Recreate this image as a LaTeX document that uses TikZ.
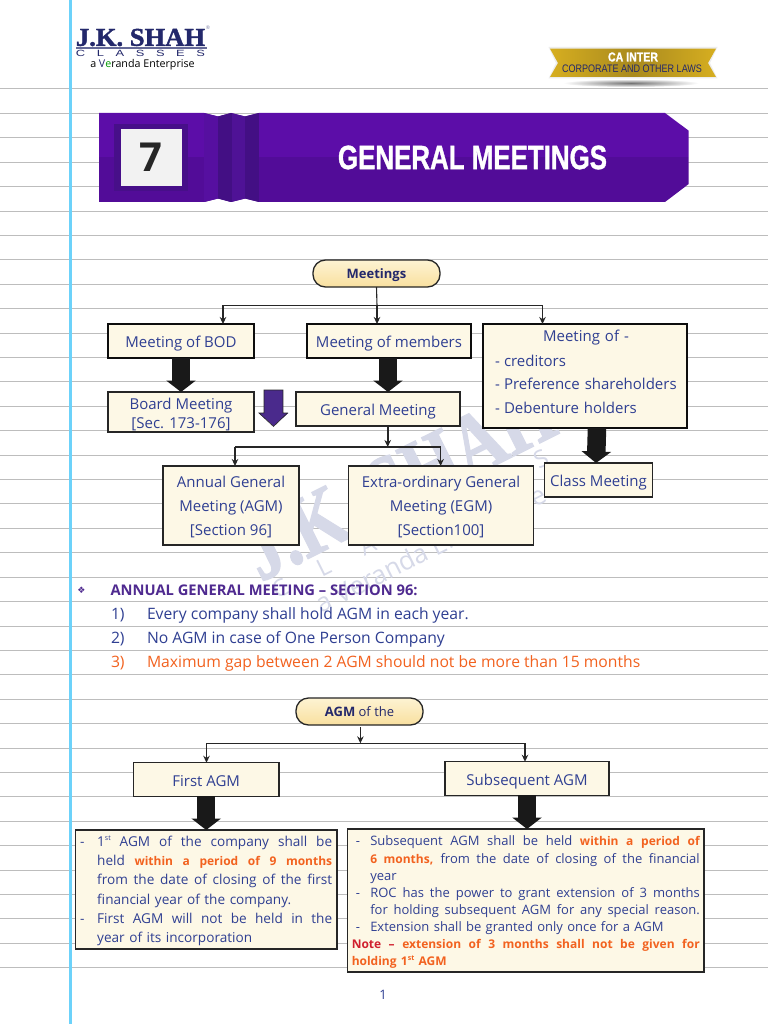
\documentclass[tikz,border=0pt]{standalone}
\usepackage{fontspec}
\usepackage{graphicx}
\setmainfont{Open Sans}
\newfontfamily\logoserif[BoldFeatures={FakeBold=1.6}]{Liberation Serif}
\newfontfamily\headsans[BoldFeatures={FakeBold=1.2}]{Liberation Sans}
\newfontfamily\symfont{DejaVu Sans}
\usetikzlibrary{arrows.meta,calc}
\definecolor{rulegray}{HTML}{BDBDBD}
\definecolor{margincyan}{HTML}{6CD2FA}
\definecolor{wmark}{HTML}{D6D9E8}
\definecolor{boxfill}{HTML}{FDF8E6}
\definecolor{boxtext}{HTML}{2F3F92}
\definecolor{orangetext}{HTML}{F2621F}
\definecolor{redtext}{HTML}{D0202F}
\definecolor{headpurple}{HTML}{4F2A90}
\definecolor{navy}{HTML}{23286B}
\definecolor{bannertop}{HTML}{5C0DA8}
\definecolor{bannerlow}{HTML}{520C98}
\definecolor{fold}{HTML}{430F84}
\definecolor{foldmid}{HTML}{4F1296}
\definecolor{foldsoft}{HTML}{560FA0}
\definecolor{arrowpurple}{HTML}{4A2A8C}
\definecolor{gold}{HTML}{D6AE20}
\definecolor{golddark}{HTML}{A98A1E}
\definecolor{pilltop}{HTML}{FDF3D3}
\definecolor{pilllow}{HTML}{F9E09F}
\newcommand\jla[1]{\makebox[235pt][s]{\spaceskip=.27em plus 3em\relax #1}}
\newcommand\jlb[1]{\makebox[329.5pt][s]{\spaceskip=.27em plus 3em\relax #1}}
\newcommand\dsh[1]{\leavevmode\hbox to #1{-\hfil}}
\newcommand\ord[1]{#1\raisebox{.42em}{\fontsize{7}{7}\selectfont st}}
\newcommand\topstrut[1]{\rule{0pt}{#1}}
\newcommand\orb[1]{\textcolor{orangetext}{\bfseries\fontsize{12}{17}\selectfont #1}}
\tikzset{
  x=1pt,y=-1pt,
  every node/.style={inner sep=0pt,outer sep=0pt},
  ruled/.style={rulegray,line width=1pt},
  plainbox/.style={rectangle,draw=black!85,line width=1.1pt,fill=boxfill,text=boxtext,align=center,
    font=\fontsize{15}{24.4}\selectfont},
  oneline/.style={text height=15pt,text depth=2pt},
  heavybox/.style={plainbox,line width=1.9pt,draw=black!95},
  pill/.style={rectangle,rounded corners=12.5pt,draw=black!85,line width=1.3pt,top color=pilltop,bottom color=pilllow,
    text=navy,align=center,text height=11.5pt,text depth=2pt,font=\fontsize{13}{16}\selectfont},
  conn/.style={draw=black!85,line width=1.1pt,-{Stealth[length=7pt,width=6.5pt]}},
  hconn/.style={draw=black!85,line width=1.1pt},
  blockarrow/.style={draw=black!90,line width=18.5pt,-{Triangle[length=11.5pt,width=29pt]}},
  listline/.style={anchor=west,text=boxtext,text height=13pt,text depth=2pt,font=\fontsize{15.7}{18}\selectfont},
  wm/.style={text=wmark,rotate=26.5},
}
\begin{document}
\begin{tikzpicture}
\useasboundingbox (0,0) rectangle (768,1024);
\fill[white] (0,0) rectangle (768,1024);
% ruled paper
\foreach \k in {0,...,36}{\draw[ruled] (0,{89+24.41*\k}) -- (768,{89+24.41*\k});}
\fill[margincyan] (68.6,0) rectangle (72,1024);
% watermark
\node[wm] (wmlogo) at (398,482) {\resizebox{335pt}{58pt}{\logoserif\bfseries J.K. SHAH}};
\node[wm] (wmclasses) at (410,524) {\fontsize{24}{24}\selectfont C\hspace{35pt}L\hspace{35pt}A\hspace{35pt}S\hspace{35pt}S\hspace{35pt}E\hspace{35pt}S};
\node[wm] (wmveranda) at (432,551) {\fontsize{26}{26}\selectfont a Veranda Enterprise};
% logo
\node (logotext) at (140.5,37.5) {\textcolor{navy}{\resizebox{129pt}{17pt}{\logoserif\bfseries J.K. SHAH}}};
\node (logoreg) at (208,28) {\textcolor{navy!60}{\fontsize{5}{5}\selectfont ®}};
\fill[navy!70!white] (76,47.2) rectangle (207,48.6);
\node (logoclasses) at (140.5,53.6) {\textcolor{navy}{\resizebox{129pt}{6.3pt}{\headsans C\hspace{9pt}L\hspace{9pt}A\hspace{9pt}S\hspace{9pt}S\hspace{9pt}E\hspace{9pt}S}}};
\node (logoveranda) at (142.5,65) {\fontsize{10.7}{11}\selectfont a \textcolor{navy}{V}\textcolor{green!60!black}{e}randa Enterprise};
% badge
\shade[inner color=black!55,outer color=white] (631,83) ellipse (68 and 4);
\fill[white!93!black] (548.5,47) -- (717.5,47) -- (710,63) -- (717.5,78.5) -- (548.5,78.5) -- (556,63) -- cycle;
\shade[left color=gold,right color=gold,middle color=golddark] (550,48.7) -- (716,48.7) -- (708,63) -- (716,77) -- (550,77) -- (558,63) -- cycle;
\node (badgetop) at (633,57) {\textcolor{white}{\resizebox{50pt}{9pt}{\headsans\bfseries CA INTER}}};
\node (badgelow) at (632,69.2) {\textcolor{navy}{\resizebox{140pt}{7.6pt}{\headsans CORPORATE AND OTHER LAWS}}};
% banner
\begin{scope}
\clip (99,113) -- (204,113) -- (218,116.5) -- (231,113) -- (245,116.5) -- (259,113) -- (665,113) -- (688.7,130.7) -- (688.7,184) -- (665,202) -- (259,202) -- (245,198.5) -- (231,202) -- (218,198.5) -- (204,202) -- (99,202) -- cycle;
\fill[bannertop] (90,110) rectangle (695,157);
\fill[bannerlow] (90,157) rectangle (695,205);
\fill[foldsoft] (204,110) rectangle (218,205);
\fill[fold] (218,110) rectangle (232,205);
\fill[foldmid] (232,110) rectangle (245,205);
\fill[fold] (245,110) rectangle (259,205);
\end{scope}
\fill[fold!85!bannertop] (114,124) rectangle (188,191);
\node[fill=white!95!black,minimum width=61.5pt,minimum height=57pt,text=black!85] (chapter) at (151.3,157.5) {\bfseries\fontsize{40}{40}\selectfont 7};
\node (title) at (472.5,157.5) {\textcolor{white}{\resizebox{269pt}{23.5pt}{\headsans\bfseries GENERAL MEETINGS}}};
% first chart
\node[pill,minimum width=127pt,minimum height=27pt] (meetings) at (376.5,273.5) {\bfseries Meetings};
\node[heavybox,oneline,minimum width=146pt,minimum height=34pt] (bod) at (181,341) {Meeting of BOD};
\node[heavybox,oneline,minimum width=164pt,minimum height=34pt,line width=1.5pt] (members) at (389,341) {Meeting of members};
\node[heavybox,minimum width=204pt,minimum height=104pt,align=left,text width=180pt,inner xsep=12pt] (meetof) at (585,376) {\makebox[180pt][c]{\hspace{2pt}Meeting of -}\\[.5pt]\dsh{9pt}\mbox{creditors}\\[-1pt]\dsh{9pt}\mbox{Preference shareholders}\\\dsh{9pt}\mbox{Debenture holders}\rule[-8.5pt]{0pt}{8.5pt}};
\node[plainbox,minimum width=146pt,minimum height=40pt,font=\fontsize{15}{18.5}\selectfont] (board) at (181,412) {\topstrut{16pt}Board Meeting\\{}[Sec. 173-176]};
\node[plainbox,oneline,minimum width=164pt,minimum height=34pt] (general) at (378,409) {General Meeting};
\node[plainbox,minimum width=136pt,minimum height=79pt] (agm) at (231,505.5) {\topstrut{14.5pt}Annual General\\Meeting (AGM)\\{}[Section 96]};
\node[plainbox,minimum width=185.5pt,minimum height=79pt] (egm) at (441,505.5) {\topstrut{14.5pt}Extra-ordinary General\\Meeting (EGM)\\{}[Section100]};
\node[plainbox,oneline,minimum width=108pt,minimum height=34pt] (classm) at (598.5,480) {Class Meeting};
\coordinate (hub) at (377,305.7);
\draw[hconn] (meetings.south) -- (hub);
\draw[conn] (hub) -- (hub |- members.north);
\draw[conn] (hub) -| ($(bod.north)+(42,0)$);
\draw[conn] (hub) -| ($(meetof.north)+(-42.5,0)$);
\draw[blockarrow] (bod.south) -- (board.north);
\draw[blockarrow] ($(members.south)+(-1,0)$) -- ($(general.north)+(10,0)$ );
\draw[blockarrow] ($(meetof.south)+(12,0)$) -- ($(classm.north)+(-2.5,0)$);
\coordinate (purpletop) at (273.5,390);
\coordinate (purpletip) at (273.5,426);
\draw[draw=arrowpurple,line width=19pt,-{Triangle[length=13pt,width=29pt]}] (purpletop) -- (purpletip);
\draw[black!85,line width=.6pt] (264,390) -- (283,390) -- (283,413) -- (287.5,413) -- (273.5,426.5) -- (259,413) -- (264,413) -- cycle;
\coordinate (hubb) at (387.7,447);
\draw[conn,line width=1.7pt] ($(general.south)+(9.7,0)$) -- (hubb);
\draw[hconn,line width=1.8pt] (235,447) -- (440.6,447);
\draw[conn] (235,447) -- ($(agm.north)+(4,0)$);
\draw[conn] (440.6,447) -- ($(egm.north)+(-.4,0)$);
% list
\node[text=headpurple,font=\symfont\fontsize{9}{9}\selectfont] (bull) at (81.5,590) {❖};
\node[anchor=west,text=headpurple,text height=13pt,text depth=2pt,font=\bfseries\fontsize{14.7}{16}\selectfont] (listhead) at (110.5,590) {ANNUAL GENERAL MEETING – SECTION 96:};
\node[listline] (numa) at (111,614) {1)};
\node[listline] (texta) at (147,614) {Every company shall hold AGM in each year.};
\node[listline] (numb) at (111,638) {2)};
\node[listline] (textb) at (147,638) {No AGM in case of One Person Company};
\node[listline,text=orangetext] (numc) at (111,662) {3)};
\node[listline,text=orangetext] (textc) at (147,662) {Maximum gap between 2 AGM should not be more than 15 months};
% second chart
\node[pill,minimum width=127pt,minimum height=27pt] (agmof) at (359.5,711.5) {\textbf{AGM} of the};
\node[plainbox,oneline,minimum width=145.5pt,minimum height=33.5pt] (first) at (206.2,779.5) {First AGM};
\node[plainbox,oneline,minimum width=164pt,minimum height=33.5pt] (subseq) at (527,778.5) {Subsequent AGM};
\node[plainbox,align=left,minimum width=261.5pt,minimum height=119pt,text width=252pt,inner xsep=4.75pt,font=\fontsize{13.6}{19.3}\selectfont] (boxa) at (206.2,889.5) {%
\topstrut{13.5pt}\dsh{17pt}\jla{\ord{1} AGM of the company shall be}\\
\hspace*{17pt}\jla{held \orb{within a period of 9 months}}\\
\hspace*{17pt}\jla{from the date of closing of the first}\\
\hspace*{17pt}financial year of the company.\\
\dsh{17pt}\jla{First AGM will not be held in the}\\
\hspace*{17pt}year of its incorporation};
\node[plainbox,align=left,minimum width=356.5pt,minimum height=143pt,text width=348pt,inner xsep=4.25pt,font=\fontsize{13}{17.1}\selectfont,line width=1.3pt] (boxb) at (525.75,900.5) {%
\topstrut{13.5pt}\hspace*{4pt}\dsh{14.5pt}\jlb{Subsequent AGM shall be held \orb{within a period of}}\\
\hspace*{18.5pt}\jlb{\orb{6 months,} from the date of closing of the financial}\\
\hspace*{18.5pt}year\\
\hspace*{4pt}\dsh{14.5pt}\jlb{ROC has the power to grant extension of 3 months}\\
\hspace*{18.5pt}\jlb{for holding subsequent AGM for any special reason.}\\
\hspace*{4pt}\dsh{14.5pt}Extension shall be granted only once for a AGM\\
\makebox[348pt][s]{\spaceskip=.27em plus 3em\relax\bfseries\fontsize{12}{17}\selectfont\textcolor{redtext}{Note –} \textcolor{orangetext}{extension of 3 months shall not be given for}}\\
\orb{holding \ord{1} AGM}};
\coordinate (hubc) at (360.4,743.3);
\draw[conn] ($(agmof.south)+(.9,2)$) -- (hubc);
\draw[hconn] (206.5,743.3) -- (525,743.3);
\draw[conn] (206.5,743.3) -- ($(first.north)+(.3,0)$);
\draw[conn,line width=1.5pt] (525,743.3) -- ($(subseq.north)+(-2,0)$);
\draw[blockarrow] (first.south) -- (boxa.north);
\draw[blockarrow] (subseq.south) -- ($(boxb.north)+(1.25,0)$);
\node[text=boxtext,font=\fontsize{13}{13}\selectfont] (pagenum) at (383,995) {1};
\end{tikzpicture}
\end{document}
